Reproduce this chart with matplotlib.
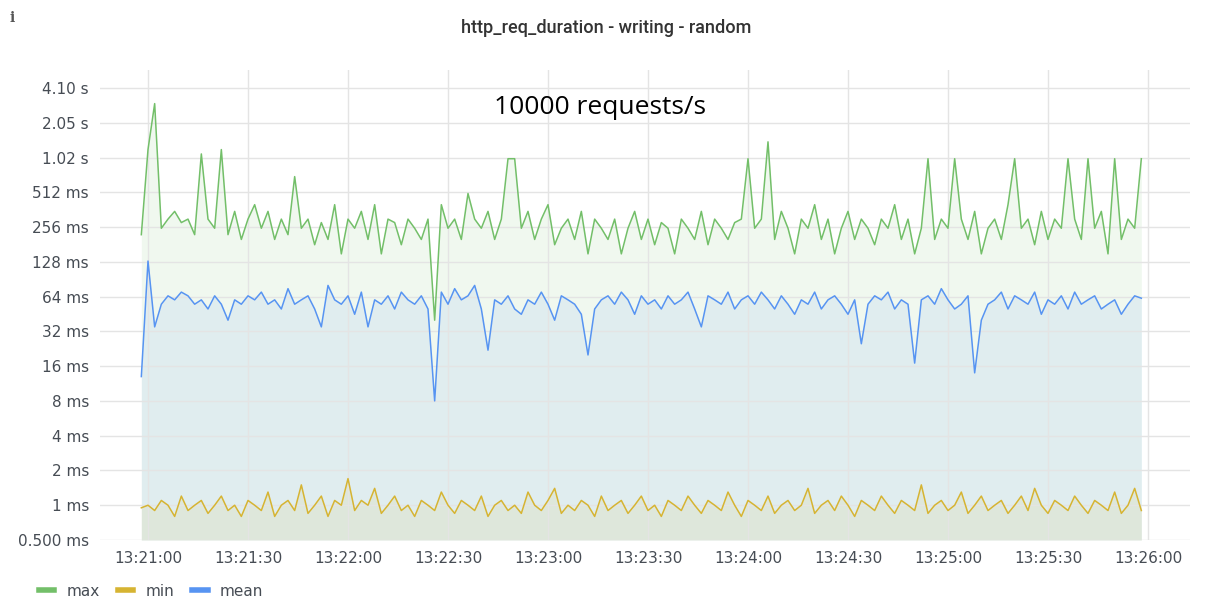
import matplotlib.pyplot as plt
from matplotlib.lines import Line2D
import numpy as np

# seconds after 13:21:00, 2 s step
t0 = -2
step = 2

max_ms = [220, 1200, 3000, 250, 300, 350, 280, 300, 220, 1100,
          300, 250, 1200, 220, 350, 200, 300, 400, 250, 350,
          200, 300, 220, 700, 250, 300, 180, 280, 200, 400,
          150, 300, 250, 350, 200, 400, 150, 300, 280, 180,
          300, 250, 200, 300, 40, 400, 250, 300, 200, 500,
          300, 250, 350, 200, 300, 1000, 1000, 250, 350, 200,
          300, 400, 180, 250, 300, 200, 350, 150, 300, 250,
          200, 300, 150, 250, 350, 200, 300, 180, 280, 250,
          150, 300, 250, 200, 350, 180, 300, 250, 200, 280,
          300, 1000, 250, 300, 1400, 200, 350, 250, 150, 300,
          250, 400, 200, 300, 150, 250, 350, 200, 300, 250,
          180, 300, 250, 400, 200, 300, 150, 250, 1000, 200,
          300, 250, 1000, 300, 200, 350, 150, 250, 300, 200,
          400, 1000, 250, 300, 180, 350, 200, 300, 250, 1000,
          300, 200, 1000, 250, 350, 150, 1000, 200, 300, 250,
          1000]

mean_ms = [13, 130, 35, 55, 65, 60, 70, 65, 55, 60,
           50, 65, 55, 40, 60, 55, 65, 60, 70, 55,
           60, 50, 75, 55, 60, 65, 50, 35, 80, 60,
           55, 65, 45, 70, 35, 60, 55, 65, 50, 70,
           60, 55, 65, 50, 8, 70, 55, 75, 60, 65,
           80, 50, 22, 60, 55, 65, 50, 45, 60, 55,
           70, 55, 40, 65, 60, 55, 45, 20, 50, 60,
           65, 55, 70, 60, 45, 65, 55, 60, 50, 65,
           55, 60, 70, 50, 35, 65, 60, 55, 70, 50,
           60, 65, 55, 70, 60, 50, 65, 55, 45, 60,
           55, 70, 50, 60, 65, 55, 45, 60, 25, 55,
           65, 60, 70, 50, 60, 55, 17, 60, 65, 55,
           75, 60, 50, 55, 65, 14, 40, 55, 60, 70,
           50, 65, 60, 55, 70, 45, 60, 55, 65, 50,
           70, 55, 60, 65, 50, 55, 60, 45, 55, 65,
           62]

min_ms = [0.95, 1.0, 0.9, 1.1, 1.0, 0.8, 1.2, 0.9, 1.0, 1.1,
          0.85, 1.0, 1.2, 0.9, 1.0, 0.8, 1.1, 1.0, 0.9, 1.3,
          0.8, 1.0, 1.1, 0.9, 1.5, 0.85, 1.0, 1.2, 0.8, 1.1,
          1.0, 1.7, 0.9, 1.1, 1.0, 1.4, 0.85, 1.0, 1.2, 0.9,
          1.0, 0.8, 1.1, 1.0, 0.9, 1.3, 1.0, 0.85, 1.1, 1.0,
          0.9, 1.2, 0.8, 1.0, 1.1, 0.9, 1.0, 0.85, 1.3, 1.0,
          0.9, 1.1, 1.4, 0.85, 1.0, 0.9, 1.1, 1.0, 0.8, 1.2,
          0.9, 1.0, 1.1, 0.85, 1.0, 1.2, 0.9, 1.0, 0.8, 1.1,
          1.0, 0.9, 1.2, 1.0, 0.85, 1.1, 1.0, 0.9, 1.3, 1.0,
          0.8, 1.1, 1.0, 0.9, 1.2, 0.85, 1.0, 1.1, 0.9, 1.0,
          1.4, 0.85, 1.0, 1.1, 0.9, 1.2, 1.0, 0.8, 1.1, 1.0,
          0.9, 1.2, 1.0, 0.85, 1.1, 1.0, 0.9, 1.5, 0.85, 1.0,
          1.1, 0.9, 1.0, 1.3, 0.85, 1.0, 1.2, 0.9, 1.0, 1.1,
          0.85, 1.0, 1.2, 0.9, 1.4, 1.0, 0.85, 1.1, 1.0, 0.9,
          1.2, 1.0, 0.85, 1.1, 1.0, 0.9, 1.3, 0.85, 1.0, 1.4,
          0.9]

x_ticks = [0, 30, 60, 90, 120, 150, 180, 210, 240, 270, 300]
x_labels = ["13:21:00", "13:21:30", "13:22:00", "13:22:30", "13:23:00", "13:23:30",
            "13:24:00", "13:24:30", "13:25:00", "13:25:30", "13:26:00"]
y_ticks = [0.5, 1, 2, 4, 8, 16, 32, 64, 128, 256, 512, 1024, 2048, 4096]
y_labels = ["0.500 ms", "1 ms", "2 ms", "4 ms", "8 ms", "16 ms", "32 ms", "64 ms",
            "128 ms", "256 ms", "512 ms", "1.02 s", "2.05 s", "4.10 s"]

GREEN = "#73BF69"
YELLOW = "#D6B432"
BLUE = "#5794F2"
TXT = "#464c54"

secs = t0 + step * np.arange(len(max_ms))

fig = plt.figure(figsize=(12.13, 6.13), dpi=100)
ax = fig.add_axes([100 / 1213, 1 - 540 / 613, 1090 / 1213, 470 / 613])
ax.set_yscale("log", base=2)

for vals, col in [(max_ms, GREEN), (mean_ms, BLUE), (min_ms, YELLOW)]:
    ax.fill_between(secs, 0.5, vals, color=col, alpha=0.1, linewidth=0)
    ax.plot(secs, vals, color=col, linewidth=1.1)

ax.set_xlim(-14.4, 312.6)
ax.set_ylim(0.5, 4096 * 2 ** (18 / 34.8))
ax.set_xticks(x_ticks)
ax.set_xticklabels(x_labels)
ax.set_yticks(y_ticks)
ax.set_yticklabels(y_labels)
ax.minorticks_off()
ax.tick_params(length=0, labelsize=11, colors=TXT, pad=8)
ax.grid(True, color="#e4e4e4", linewidth=1)
for s in ax.spines.values():
    s.set_visible(False)

fig.text(0.5, 1 - 28 / 613, "http_req_duration - writing - random", ha="center", va="center",
         fontsize=13, color="#333", fontweight="medium", family="Roboto")
fig.text(12 / 1213, 1 - 18 / 613, "i", fontsize=10, color="#555", fontweight="bold", family="DejaVu Serif",
         ha="center", va="center")
fig.text(600 / 1213, 1 - 108 / 613, "10000 requests/s", ha="center", va="center",
         fontsize=19, color="black", family="Open Sans")

handles = [Line2D([], [], color=c, linewidth=4) for c in (GREEN, YELLOW, BLUE)]
fig.legend(handles, ["max", "min", "mean"], loc="center left", bbox_to_anchor=(25 / 1213, 1 - 591 / 613),
           ncol=3, frameon=False, handlelength=1.0, fontsize=11, labelcolor=TXT, columnspacing=1.2)

fig.savefig("out.png", dpi=100)
